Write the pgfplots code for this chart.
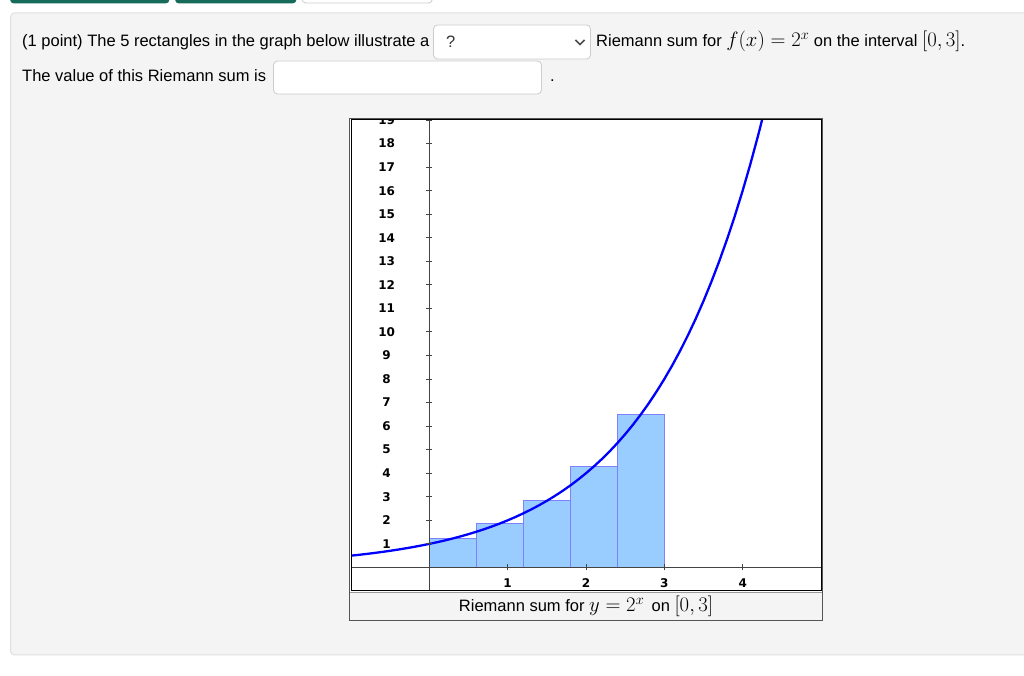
\documentclass[border=0pt]{standalone}
\usepackage{fontspec}
\setmainfont{Liberation Sans}
\newfontfamily\tickfont{DejaVu Sans}
\usepackage{pgfplots}
\pgfplotsset{compat=1.18}
\definecolor{panel}{HTML}{F4F4F4}
\definecolor{panelborder}{HTML}{E0E0E0}
\definecolor{btngreen}{HTML}{166B5B}
\definecolor{barfill}{HTML}{99CCFF}
\definecolor{baredge}{HTML}{8080FF}
\definecolor{boxborder}{HTML}{CCCCCC}
\definecolor{frameline}{HTML}{555555}
\definecolor{axisgray}{HTML}{444444}
\newcommand{\mq}[1]{{\fontsize{19.5}{22}\selectfont$#1$}}
\newcommand{\mc}[1]{{\fontsize{20.5}{22}\selectfont$#1$}}

\begin{document}
\begin{tikzpicture}
\useasboundingbox (0pt,0pt) rectangle (1024pt,676pt);
\clip (0pt,0pt) rectangle (1024pt,676pt);
\fill[white] (0pt,0pt) rectangle (1024pt,676pt);
% top buttons
\fill[btngreen, rounded corners=4pt] (10pt,672.5pt) rectangle (169.5pt,690pt);
\fill[btngreen, rounded corners=4pt] (175pt,672.5pt) rectangle (296.5pt,690pt);
\draw[boxborder, fill=white, rounded corners=4pt, line width=0.8pt] (302pt,673pt) rectangle (432.5pt,690pt);
% panel
\draw[panelborder, fill=panel, rounded corners=4pt, line width=1pt] (10.5pt,21pt) rectangle (1040pt,663pt);
% line 1
\node[anchor=base west, inner sep=0pt, font=\fontsize{16.5}{20}\selectfont] at (22pt,629pt) {(1 point) The 5 rectangles in the graph below illustrate a};
\draw[boxborder, fill=white, rounded corners=4pt, line width=0.8pt] (433.5pt,617pt) rectangle (590.5pt,651pt);
\node[anchor=base west, inner sep=0pt, text=black!80, font=\fontsize{16.5}{20}\selectfont] at (446pt,628pt) {?};
\draw[black!70, line width=1.6pt] (575.5pt,636pt) -- (580pt,631.5pt) -- (584.5pt,636pt);
\node[anchor=base west, inner sep=0pt, font=\fontsize{16.5}{20}\selectfont] at (596pt,629pt) {Riemann sum for \mq{f(x) = 2^x} on the interval \mq{[0, 3]}.};
% line 2
\node[anchor=base west, inner sep=0pt, font=\fontsize{16.5}{20}\selectfont] at (22pt,594pt) {The value of this Riemann sum is};
\draw[boxborder, fill=white, rounded corners=4pt, line width=0.8pt] (273.5pt,582pt) rectangle (541.5pt,615pt);
\node[anchor=base west, inner sep=0pt, font=\fontsize{16.5}{20}\selectfont] at (550pt,594pt) {.};
% graph frame background
\fill[white] (349.5pt,83.5pt) rectangle (822.5pt,557.5pt);
\fill[panel] (350pt,56pt) rectangle (822pt,83.5pt);
\begin{axis}[
  at={(351pt,85pt)}, anchor=south west, scale only axis,
  width=470pt, height=471pt,
  xmin=-1, xmax=5, ymin=-1, ymax=19,
  axis lines=middle,
  axis line style={-, draw=axisgray, line width=1.1pt},
  xtick={1,2,3,4}, ytick={1,2,...,19},
  tick align=center, major tick length=6pt,
  tick style={axisgray, line width=0.9pt},
  /pgf/number format/assume math mode=true,
  xticklabel style={anchor=center, yshift=-12.7pt, text=black, font=\tickfont\bfseries\fontsize{12}{13}\selectfont},
  yticklabel style={anchor=center, xshift=-39.7pt, text=black, font=\tickfont\bfseries\fontsize{12}{13}\selectfont},
  axis on top,
]
\addplot[ybar interval, fill=barfill, draw=baredge, line width=0.9pt] coordinates {
  (0.0,1.2311) (0.6,1.8661) (1.2,2.8284) (1.8,4.2871) (2.4,6.4980) (3.0,0)
};
\addplot[color=blue, line width=2.3pt] coordinates {
  (-1.0,0.5000) (-0.9,0.5359) (-0.8,0.5743) (-0.7,0.6156) (-0.6,0.6598)
  (-0.5,0.7071) (-0.4,0.7579) (-0.3,0.8123) (-0.2,0.8706) (-0.1,0.9330)
  (0.0,1.0000) (0.1,1.0718) (0.2,1.1487) (0.3,1.2311) (0.4,1.3195)
  (0.5,1.4142) (0.6,1.5157) (0.7,1.6245) (0.8,1.7411) (0.9,1.8661)
  (1.0,2.0000) (1.1,2.1435) (1.2,2.2974) (1.3,2.4623) (1.4,2.6390)
  (1.5,2.8284) (1.6,3.0314) (1.7,3.2490) (1.8,3.4822) (1.9,3.7321)
  (2.0,4.0000) (2.1,4.2871) (2.2,4.5948) (2.3,4.9246) (2.4,5.2780)
  (2.5,5.6569) (2.6,6.0629) (2.7,6.4980) (2.8,6.9644) (2.9,7.4643)
  (3.0,8.0000) (3.1,8.5742) (3.2,9.1896) (3.3,9.8492) (3.4,10.5561)
  (3.5,11.3137) (3.6,12.1257) (3.7,12.9960) (3.8,13.9288) (3.9,14.9285)
  (4.0,16.0000) (4.1,17.1484) (4.2,18.3792) (4.3,19.6983)
};
\end{axis}
% cover the clipped top of the top tick label
\fill[panel] (360pt,558pt) rectangle (420pt,566pt);
\fill[white] (350pt,556pt) rectangle (822pt,557.5pt);
% frame lines
\draw[black, line width=1pt] (351pt,85pt) rectangle (821pt,556pt);
\draw[black!40, line width=1pt] (350pt,83.3pt) -- (822pt,83.3pt);
\draw[frameline, line width=1.1pt] (349.5pt,55.5pt) rectangle (822.5pt,557.5pt);
% caption
\node[anchor=base, inner sep=0pt, font=\fontsize{16.5}{19}\selectfont] at (586pt,64pt) {Riemann sum for \mc{y = 2^x}\, on \mc{[0, 3]}};
\end{tikzpicture}
\end{document}
